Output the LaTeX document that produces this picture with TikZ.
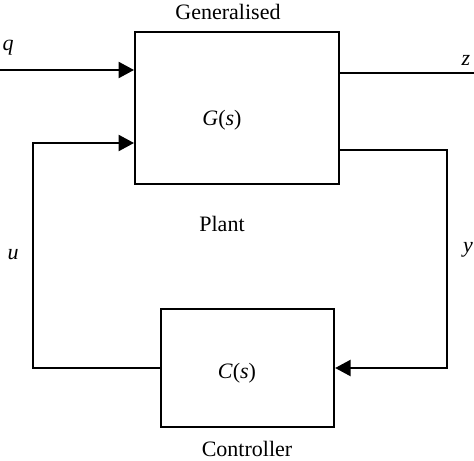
\documentclass[tikz,border=0pt]{standalone}
\usepackage{fontspec}
\setmainfont{Liberation Serif}
\usetikzlibrary{arrows.meta}
\begin{document}
\begin{tikzpicture}[x=0.75pt, y=-0.75pt, line width=1.5pt, font=\fontsize{16.5}{19}\selectfont]
\tikzstyle{blk}=[draw, line width=1.5pt, inner sep=0pt]
\tikzstyle{sig}=[-{Triangle[length=11.5pt, width=12pt]}]
\tikzstyle{lbl}=[inner sep=0pt]
\useasboundingbox (0,0) rectangle (474,460);
% blocks
\node[blk, minimum width=153pt, minimum height=114pt] (plant) at (237,108) {};
\node[blk, minimum width=130pt, minimum height=88.5pt] (ctrl) at (247.5,368) {};
\node[lbl] (gs) at (222,120) {\textit{G}(\textit{s})};
\node[lbl] (cs) at (237,373) {\textit{C}(\textit{s})};
\node[lbl] (gen) at (228,12) {Generalised};
\node[lbl] (plnt) at (222,224) {Plant};
\node[lbl] (ctl) at (247,449) {Controller};
% signals
\coordinate (qin) at (0,70);
\coordinate (zout) at (474,73);
\coordinate (ucorner) at (33,368);
\coordinate (ycorner) at (447,150);
\draw[sig] (qin) -- (qin -| plant.west);
\draw (plant.east |- zout) -- (zout);
\draw[sig] (ctrl.west) -- (ucorner) |- (plant.west |- 0,143);
\draw[sig] (plant.east |- ycorner) -- (ycorner) |- (ctrl.east);
\node[lbl] (q) at (8,48) {\textit{q}};
\node[lbl] (z) at (466,60) {\textit{z}};
\node[lbl] (u) at (13,255) {\textit{u}};
\node[lbl] (y) at (468,250) {\textit{y}};
\end{tikzpicture}
\end{document}
